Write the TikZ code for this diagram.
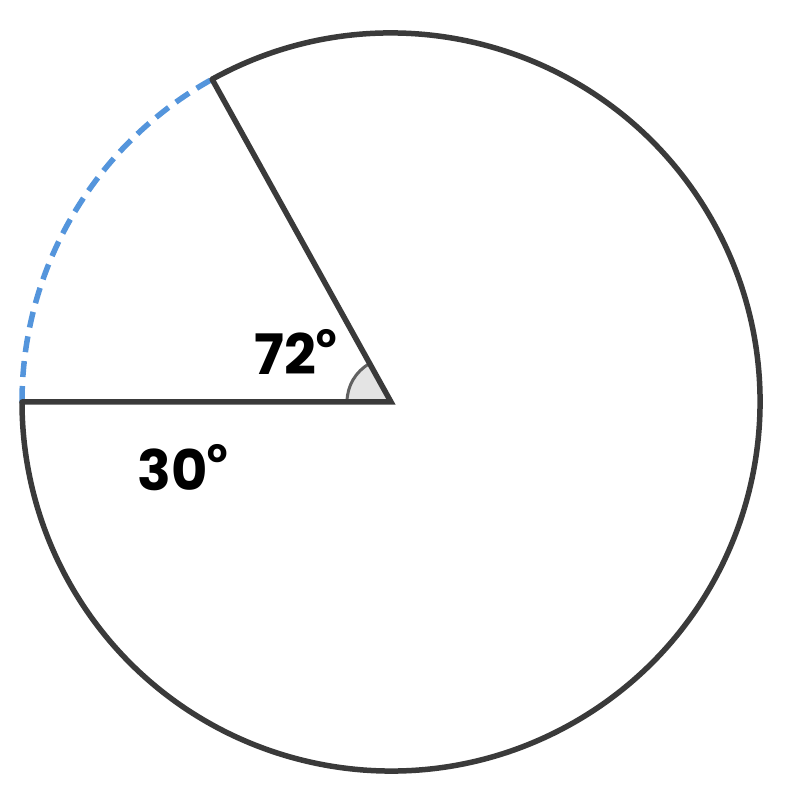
\documentclass[tikz,border=0pt]{standalone}
\usepackage{fontspec}
\setmainfont{Poppins}
\usepackage{tikz}
\usetikzlibrary{calc}
\definecolor{rim}{RGB}{58,58,58}
\definecolor{arcblue}{RGB}{84,149,220}
\definecolor{wedge}{RGB}{228,228,228}
\newcommand{\drawrim}{\draw[rim,line width=5.5bp]}
\newcommand{\degsign}{\raisebox{0.5em}{\fontsize{32}{32}\bfseries\selectfont o}}
\newcommand{\anglelabel}[3]{\node[font=\fontsize{56}{60}\bfseries\selectfont,inner sep=0pt] (#1) at (#2) {#3\degsign};}
\begin{document}
\begin{tikzpicture}[x=1bp,y=1bp]
\useasboundingbox (0,0) rectangle (786,802);
\coordinate (O) at (391,400);
\coordinate (L) at ($(O)+(180:369)$);
\coordinate (T) at ($(O)+(119:369)$);
\filldraw[fill=wedge,draw=rim!80,line width=3bp] (O)--++(180:44) arc (180:119:44)--cycle;
\drawrim (T) arc (119:-180:369);
\draw[arcblue,line width=5.5bp,dash pattern=on 16bp off 9bp] (L) arc (180:119:369);
\drawrim[line cap=round] (L)--(O)--(T);
\anglelabel{top}{296,450}{72}
\anglelabel{low}{183,334}{30}
\end{tikzpicture}
\end{document}
